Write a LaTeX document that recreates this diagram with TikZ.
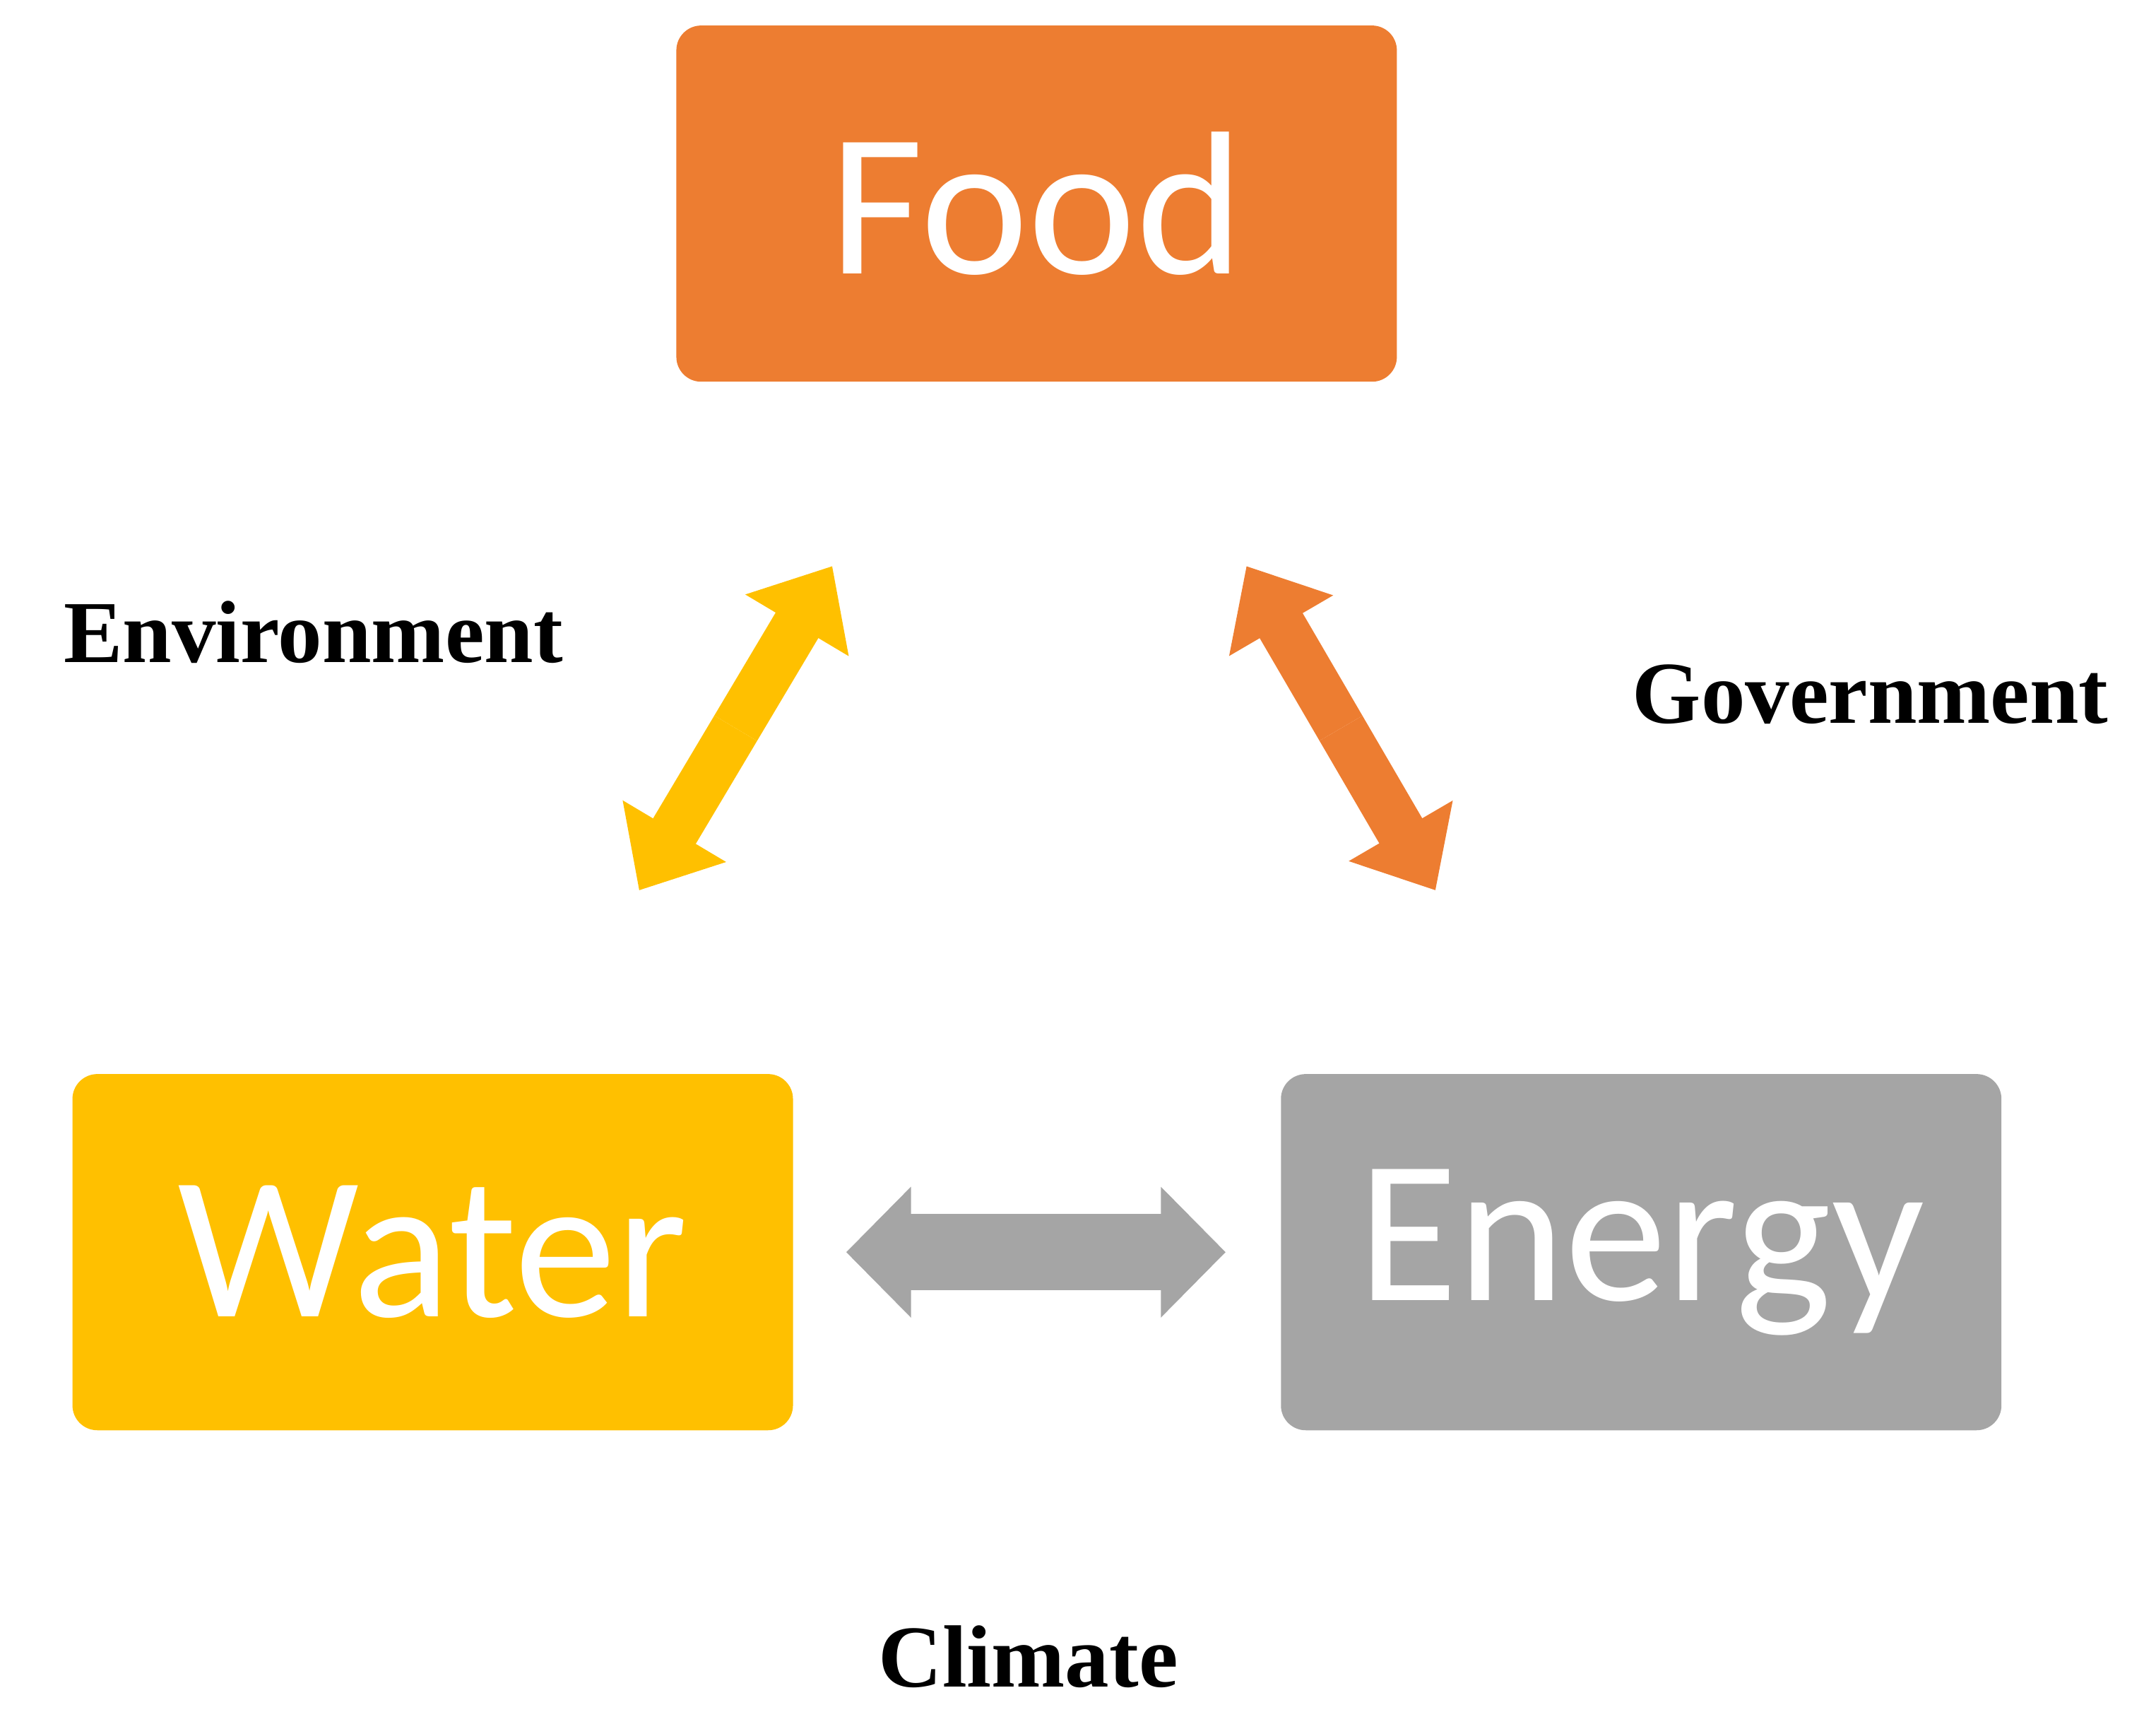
\documentclass[tikz,border=0pt]{standalone}
\usepackage{fontspec}
\setmainfont{Liberation Serif}
\newfontfamily\boxfont{Carlito}
\usetikzlibrary{arrows.meta,calc}
\definecolor{cfood}{HTML}{ED7D31}
\definecolor{cwater}{HTML}{FFC000}
\definecolor{cenergy}{HTML}{A5A5A5}
\begin{document}
\begin{tikzpicture}[x=1pt,y=1pt,
  bx/.style={rounded corners=18pt,minimum width=522pt,minimum height=258pt,text=white,font=\boxfont\fontsize{148}{150}\selectfont,inner sep=0pt},
  lbl/.style={font=\bfseries\fontsize{64}{66}\selectfont,text=black},
  fat/.style={line width=36pt,-{Triangle[width=84pt,length=50pt]}}]
\useasboundingbox (0,0) rectangle (1562,1240);
\node[bx,fill=cfood] (food) at (751,1092.5) {Food};
\node[bx,fill=cwater] (water) at (313.5,333) {Water};
\node[bx,fill=cenergy] (energy) at (1189,333) {Energy};
\node[lbl] (env) at (227,782) {Environment};
\node[lbl] (gov) at (1355,737) {Government};
\node[lbl] (cli) at (745,40) {Climate};
\coordinate (y1) at (463,595);
\coordinate (y2) at (603,830);
\coordinate (o1) at (903,830);
\coordinate (o2) at (1040,595);
\coordinate (g1) at (613,333);
\coordinate (g2) at (888,333);
\coordinate (ym) at ($(y1)!0.5!(y2)$);
\coordinate (om) at ($(o1)!0.5!(o2)$);
\coordinate (gm) at ($(g1)!0.5!(g2)$);
\draw[fat,cwater] (ym) -- (y1);
\draw[fat,cwater] (ym) -- (y2);
\draw[fat,cfood] (om) -- (o1);
\draw[fat,cfood] (om) -- (o2);
\draw[fat,cenergy,line width=55pt,-{Triangle[width=92pt,length=47pt]}] (gm) -- (g1);
\draw[fat,cenergy,line width=55pt,-{Triangle[width=92pt,length=47pt]}] (gm) -- (g2);
\end{tikzpicture}
\end{document}
